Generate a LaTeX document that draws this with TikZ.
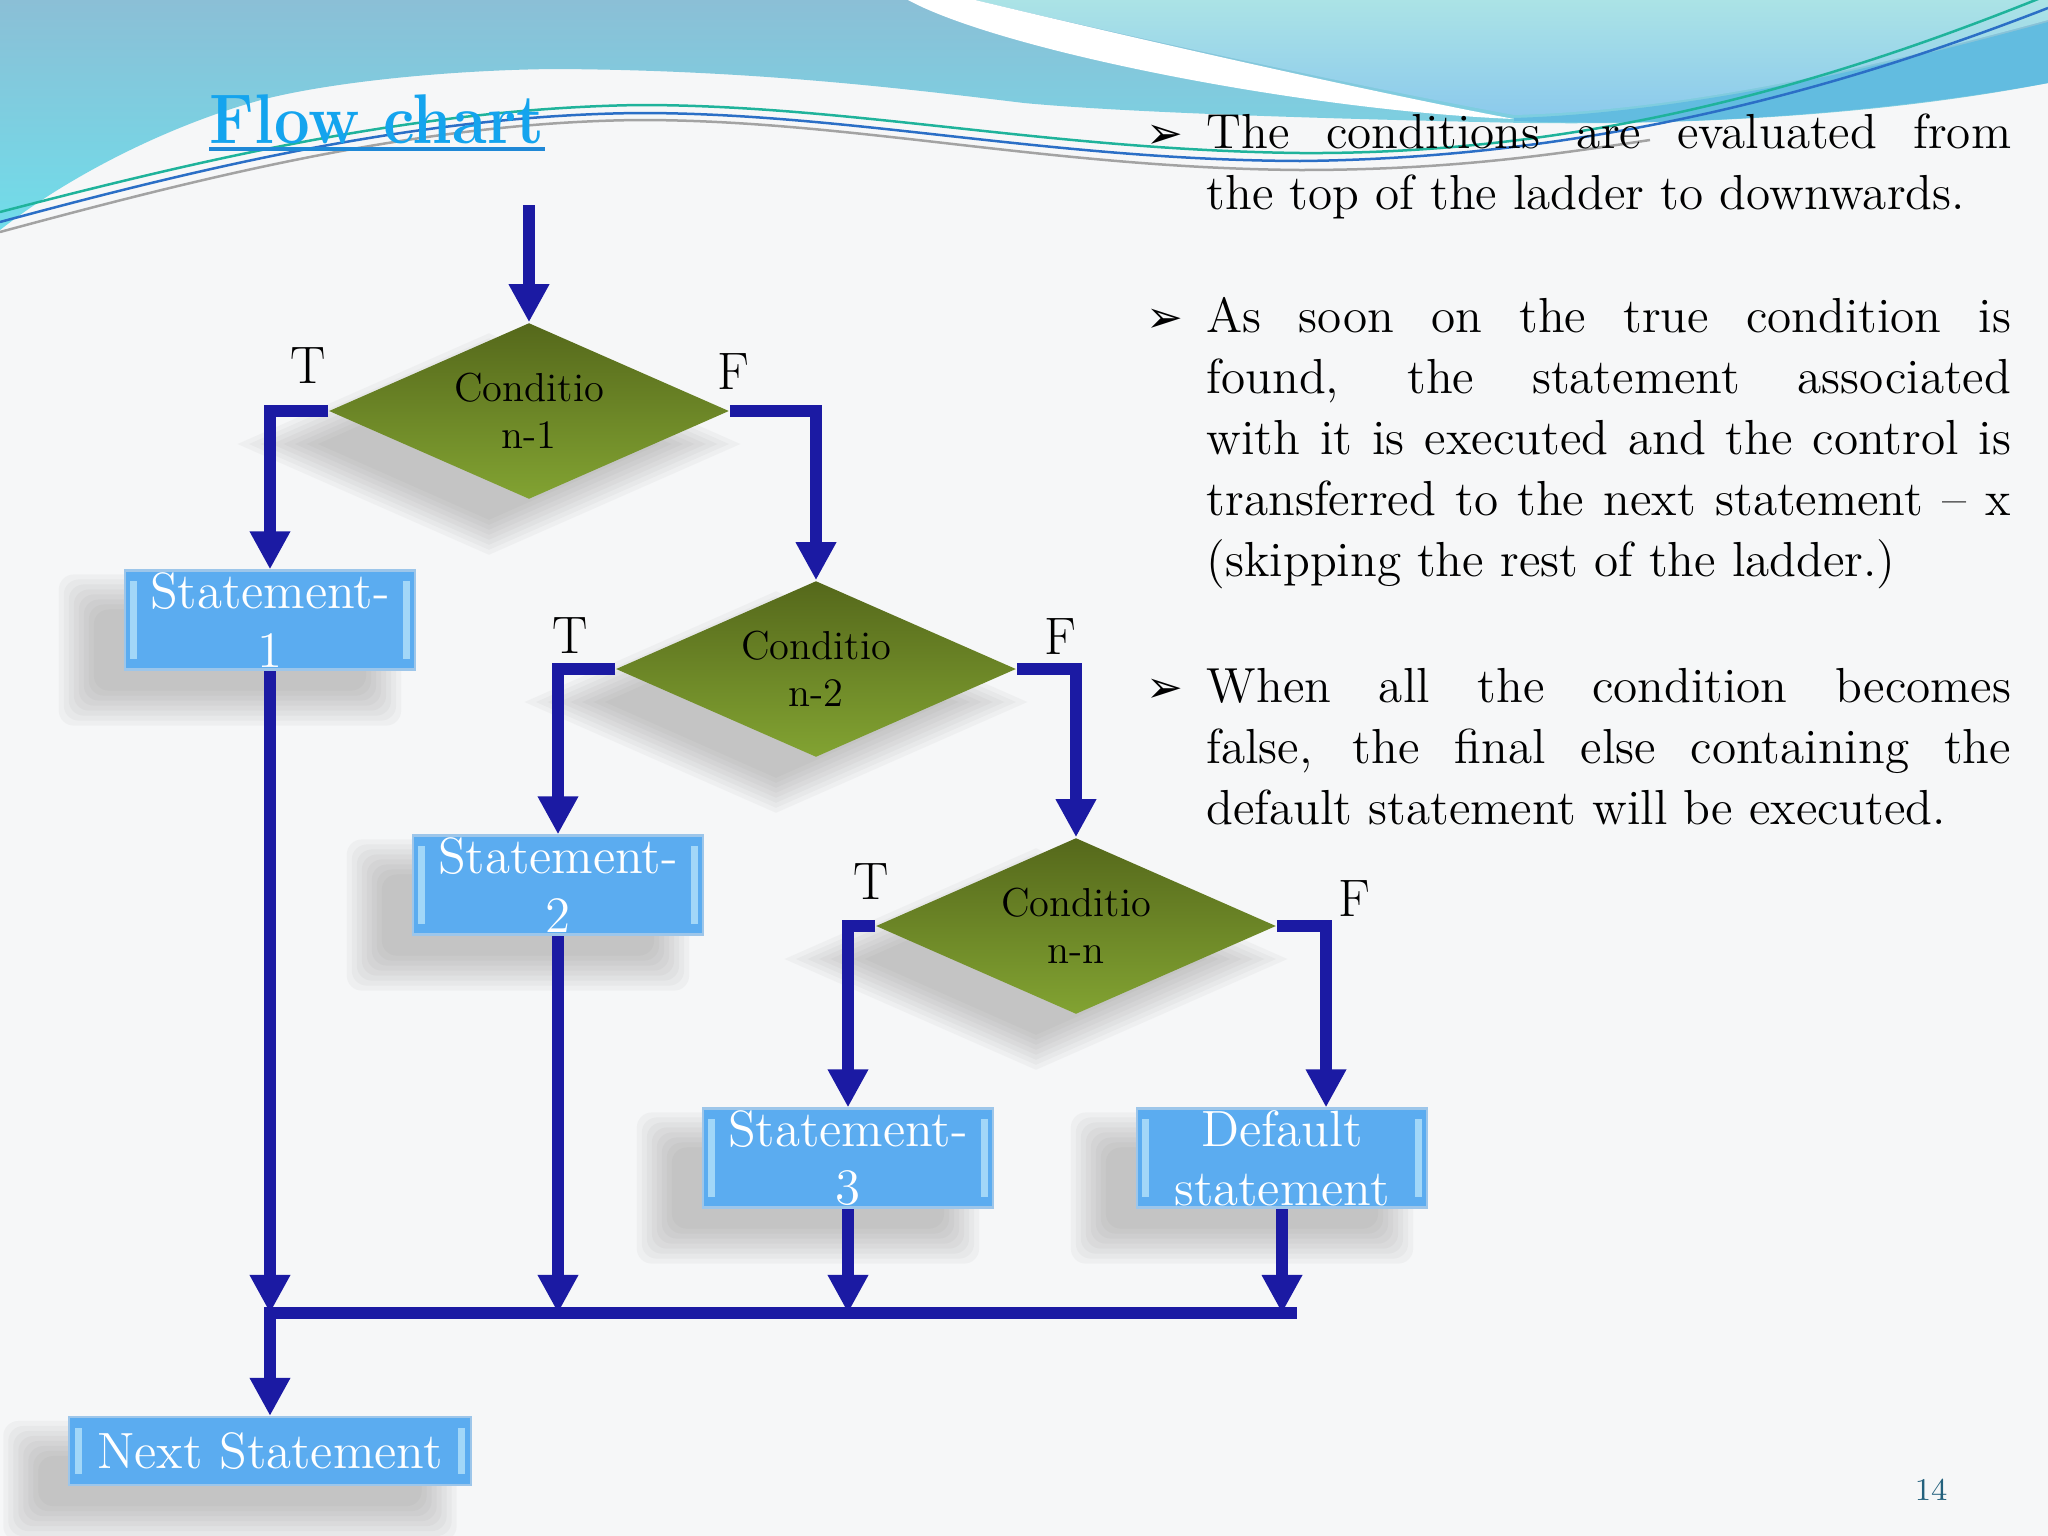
\documentclass[tikz,border=0pt]{standalone}
\usepackage{fontspec}
\newfontfamily\symbolfont{DejaVu Sans}
\newfontfamily\titlefont[FakeStretch=0.9]{Latin Modern Roman}
\usetikzlibrary{arrows.meta, shapes.geometric}
\definecolor{slidebg}{HTML}{F6F7F8}
\definecolor{wavesteel}{HTML}{8BBFD6}
\definecolor{wavecyan}{HTML}{70DDEA}
\definecolor{wavepale}{HTML}{ABE3E6}
\definecolor{wavesky}{HTML}{8CCAEC}
\definecolor{wavestripe}{HTML}{62BCE0}
\definecolor{lineteal}{HTML}{1FB39B}
\definecolor{lineblue}{HTML}{2B6FC6}
\definecolor{linegrey}{HTML}{A3A3A3}
\definecolor{flowblue}{HTML}{1B1AA3}
\definecolor{boxblue}{HTML}{5BACF0}
\definecolor{boxedge}{HTML}{9DC6EA}
\definecolor{boxshine}{HTML}{B4E2FA}
\definecolor{olivetop}{HTML}{55681B}
\definecolor{olivebottom}{HTML}{82A332}
\definecolor{titleblue}{HTML}{14A4EE}
\definecolor{titleline}{HTML}{1F88D6}
\definecolor{pagenum}{HTML}{23617D}
\hyphenpenalty=10000
\exhyphenpenalty=10000

\pgfdeclarelayer{backdrop}
\pgfdeclarelayer{wires}
\pgfsetlayers{backdrop,wires,main}

\tikzset{
  decision/.style={diamond, aspect=2.3, minimum width=4.0cm, minimum height=1.76cm,
        inner sep=0pt, top color=olivetop, bottom color=olivebottom, align=center,
        font=\fontsize{11.5}{13.3}\selectfont},
  stmtbox/.style={rectangle, fill=boxblue, draw=boxedge, line width=0.6pt,
        minimum width=2.9cm, minimum height=0.99cm, inner sep=0pt, align=center,
        text=white, font=\fontsize{14.5}{16.7}\selectfont,
        path picture={
          \fill[boxshine, fill opacity=0.8]
                ([xshift=1.5pt,yshift=3pt]path picture bounding box.south west)
                rectangle ([xshift=3.5pt,yshift=-3pt]path picture bounding box.north west);
          \fill[boxshine, fill opacity=0.8]
                ([xshift=-1.5pt,yshift=3pt]path picture bounding box.south east)
                rectangle ([xshift=-3.5pt,yshift=-3pt]path picture bounding box.north east);}},
  shadowring/.style={fill=black!55, fill opacity=0.055},
  flowline/.style={draw=flowblue, line width=0.12cm},
  flowarrow/.style={flowline, -{Triangle[width=0.38cm, length=0.38cm]}},
  branch/.style={font=\fontsize{15}{18}\selectfont},
  bullettext/.style={anchor=base west, inner sep=0pt, text width=8.04cm,
        align=justify, font=\fontsize{14}{17.4}\selectfont},
  bulletmark/.style={anchor=base west, inner sep=0pt,
        font=\symbolfont\fontsize{12.5}{14}\selectfont}
}

% soft shadows, built from a few translucent rings
\newcommand{\boxshadow}[1]{%
  \foreach \grow in {0.25cm,0.2cm,0.15cm,0.1cm,0.05cm,0cm,-0.05cm,-0.1cm}
    \fill[shadowring, rounded corners=0.15cm]
      ([xshift=-0.4cm-(\grow), yshift=-0.3cm-(\grow)]#1.south west) rectangle
      ([xshift=-0.4cm+(\grow), yshift=-0.3cm+(\grow)]#1.north east);}
\newcommand{\diamondshadow}[1]{%
  \foreach \grow in {0.22cm,0.17cm,0.12cm,0.07cm,0.02cm,-0.03cm,-0.08cm,-0.13cm}
    \fill[shadowring]
      ([xshift=-0.4cm, yshift=-0.33cm+(\grow)]#1.north) --
      ([xshift=-0.4cm+2.3*(\grow), yshift=-0.33cm]#1.east) --
      ([xshift=-0.4cm, yshift=-0.33cm-(\grow)]#1.south) --
      ([xshift=-0.4cm-2.3*(\grow), yshift=-0.33cm]#1.west) -- cycle;}

\begin{document}
\begin{tikzpicture}[x=0.01cm, y=-0.01cm]
\useasboundingbox (0,0) rectangle (2048,1536);

% slide background with the wave
\begin{pgfonlayer}{backdrop}
  \fill[slidebg] (0,0) rectangle (2048,1536);
  \shade[top color=wavesteel, bottom color=wavecyan]
    (0,0) -- (2048,0) -- (2048,83) .. controls (1900,112) and (1700,128) .. (1480,122)
    .. controls (1300,118) and (1120,112) .. (1024,103)
    .. controls (900,88) and (750,70) .. (555,69)
    .. controls (450,70) and (330,82) .. (261,100)
    .. controls (170,125) and (70,175) .. (0,230) -- cycle;
  \fill[wavestripe] (1514,118) .. controls (1700,112) and (1900,62) .. (2048,22)
    -- (2048,83) .. controls (1900,110) and (1700,128) .. (1514,121) -- cycle;
  \shade[top color=wavepale, bottom color=wavesky]
    (975,0) .. controls (1100,30) and (1350,85) .. (1514,115)
    .. controls (1700,110) and (1900,60) .. (2048,20) -- (2048,0) -- cycle;
  \fill[white] (908,0) .. controls (1000,50) and (1300,110) .. (1514,119)
    .. controls (1350,88) and (1100,30) .. (975,0) -- cycle;
  \draw[linegrey, line width=0.025cm] (0,232) .. controls (200,178) and (420,122) .. (640,120)
    .. controls (850,120) and (1050,168) .. (1300,170) .. controls (1450,170) and (1550,155) .. (1650,140);
  \draw[lineblue, line width=0.025cm] (0,222) .. controls (200,168) and (420,115) .. (640,113)
    .. controls (850,113) and (1050,160) .. (1300,161) .. controls (1600,158) and (1850,85) .. (2048,8);
  \draw[lineteal, line width=0.025cm] (0,212) .. controls (200,160) and (420,108) .. (640,105)
    .. controls (850,105) and (1050,150) .. (1300,153) .. controls (1600,155) and (1850,75) .. (2048,-5);
\end{pgfonlayer}

% title and page number
\node[anchor=base west, inner sep=0pt, text=titleblue,
      font=\titlefont\fontsize{20}{24}\selectfont\bfseries] (title) at (209,143) {Flow chart};
\draw[titleline, line width=0.04cm] ([yshift=-0.06cm]title.base west) -- ([yshift=-0.06cm]title.base east);
\node[font=\fontsize{9}{10}\selectfont, text=pagenum] (pageno) at (1931,1490) {14};

% ladder of conditions
\coordinate (entry) at (529,205);
\node[decision] (cond1) at (529,411) {Conditio\\n-1};
\node[decision] (cond2) at (816,669) {Conditio\\n-2};
\node[decision] (condn) at (1076,926) {Conditio\\n-n};

\node[stmtbox] (stmt1) at (270,620) {Statement-\\1};
\node[stmtbox] (stmt2) at (558,885) {Statement-\\2};
\node[stmtbox] (stmt3) at (848,1158) {Statement-\\3};
\node[stmtbox] (dflt) at (1282,1158) {Default\\statement};
\node[stmtbox, minimum width=4.01cm, minimum height=0.68cm] (next) at (270,1451) {Next Statement};

\node[branch] (t1) at (308,366) {T};
\node[branch] (f1) at (733,372) {F};
\node[branch] (t2) at (570,636) {T};
\node[branch] (f2) at (1060,637) {F};
\node[branch] (t3) at (871,882) {T};
\node[branch] (f3) at (1354,899) {F};

\coordinate (bus) at (1291,1313);

\begin{pgfonlayer}{wires}
  \diamondshadow{cond1}
  \diamondshadow{cond2}
  \diamondshadow{condn}
  \foreach \blk in {stmt1, stmt2, stmt3, dflt, next}
    \boxshadow{\blk};
  \draw[flowarrow] (entry) -- (cond1.north);
  \draw[flowarrow] (cond1.west) -| (stmt1.north);
  \draw[flowarrow] (cond1.east) -| (cond2.north);
  \draw[flowarrow] (cond2.west) -| (stmt2.north);
  \draw[flowarrow] (cond2.east) -| (condn.north);
  \draw[flowarrow] (condn.west) -| (stmt3.north);
  \draw[flowarrow] (condn.east) -| ([xshift=0.44cm]dflt.north);
  \draw[flowarrow] (stmt1.south) -- (stmt1.south |- bus);
  \draw[flowarrow] (stmt2.south) -- (stmt2.south |- bus);
  \draw[flowarrow] (stmt3.south) -- (stmt3.south |- bus);
  \draw[flowarrow] (dflt.south) -- (dflt.south |- bus);
  \draw[flowline, line cap=rect] (stmt1.south |- bus) -- (bus);
  \draw[flowarrow] (stmt1.south |- bus) -- (next.north);
\end{pgfonlayer}

% explanation on the right
\node[bulletmark] (mark1) at (1146,148) {➢};
\node[bullettext] (para1) at (1206,148) {The conditions are evaluated from\linebreak
  the top of the ladder to downwards.};
\node[bulletmark] (mark2) at (1146,332) {➢};
\node[bullettext] (para2) at (1206,332) {As soon on the true condition is\linebreak
  found, the statement associated\linebreak
  with it is executed and the control is\linebreak
  transferred to the next statement – x\linebreak
  (skipping the rest of the ladder.)};
\node[bulletmark] (mark3) at (1146,702) {➢};
\node[bullettext] (para3) at (1206,702) {When all the condition becomes\linebreak
  false, the final else containing the\linebreak
  default statement will be executed.};
\end{tikzpicture}
\end{document}
